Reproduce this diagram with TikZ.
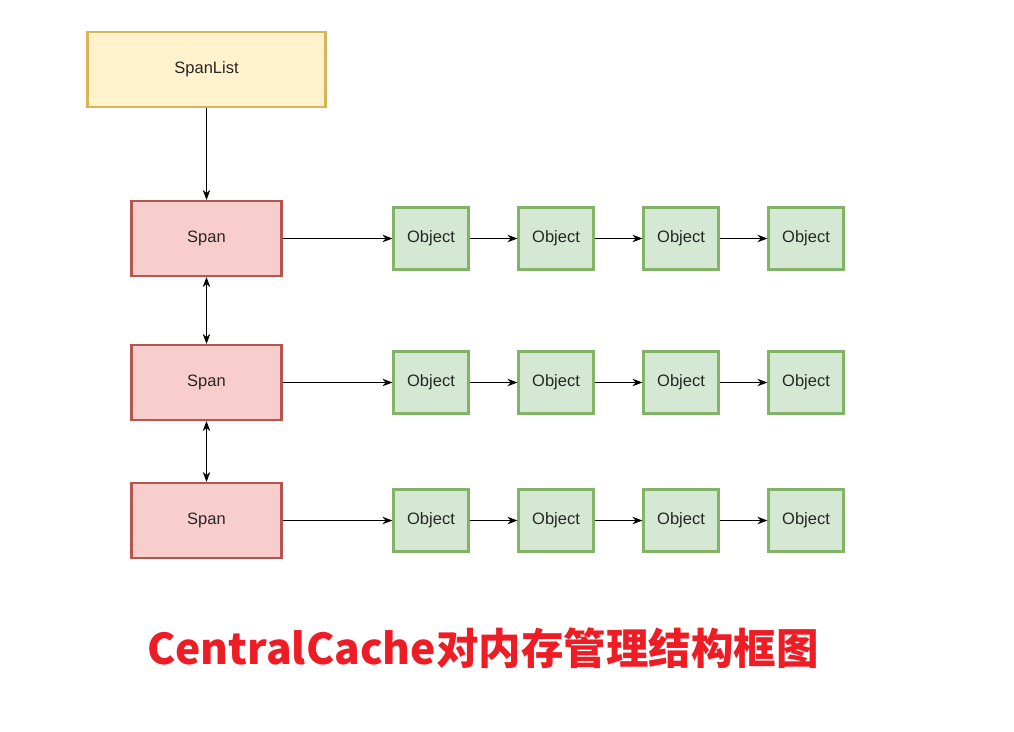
\documentclass[tikz,border=0pt]{standalone}
\usepackage{fontspec}
\setmainfont{Liberation Sans}
\newfontfamily\cjk{Noto Sans CJK SC}
\usetikzlibrary{arrows.meta}
\definecolor{ylf}{HTML}{FFF2CC}\definecolor{yld}{HTML}{D6B656}
\definecolor{rdf}{HTML}{F8CECC}\definecolor{rdd}{HTML}{B85450}
\definecolor{grf}{HTML}{D5E8D4}\definecolor{grd}{HTML}{82B366}
\definecolor{ttl}{HTML}{EE1C24}
\begin{document}
\begin{tikzpicture}[x=1pt,y=-1pt,
 box/.style={draw,line width=2.2pt,font=\fontsize{16.5}{19}\selectfont,inner sep=0pt,text=black!85,text height=7pt,text depth=0pt},
 listbox/.style={box,fill=ylf,draw=yld,minimum width=238pt,minimum height=75pt},
 spanbox/.style={box,fill=rdf,draw=rdd,minimum width=150pt,minimum height=75pt},
 objbox/.style={box,fill=grf,draw=grd,minimum width=75pt,minimum height=62pt},
 arr/.style={-{Stealth[length=10pt,width=7.5pt]},line width=0.9pt},
 darr/.style={{Stealth[length=10pt,width=7.5pt]}-{Stealth[length=10pt,width=7.5pt]},line width=0.9pt}]
\useasboundingbox (0,0) rectangle (1014,731);
\node[listbox] (L) at (206.5,69.5) {SpanList};
\foreach \r/\y/\oy in {1/238.5/238.5,2/382.5/382.5,3/520.5/520.5}{
 \node[spanbox] (S\r) at (206.5,\y) {Span};
 \foreach \c/\x in {1/431,2/556,3/681,4/806}{
  \node[objbox] (O\r\c) at (\x,\oy) {Object};}
 \draw[arr] (S\r) -- (O\r1);
 \draw[arr] (O\r1) -- (O\r2);
 \draw[arr] (O\r2) -- (O\r3);
 \draw[arr] (O\r3) -- (O\r4);
}
\draw[arr] (L) -- (S1);
\draw[darr] (S1) -- (S2);
\draw[darr] (S2) -- (S3);
\node[text=ttl,font=\cjk\bfseries\fontsize{42.5}{48}\selectfont] (T) at (483,648) {CentralCache对内存管理结构框图};
\end{tikzpicture}
\end{document}
